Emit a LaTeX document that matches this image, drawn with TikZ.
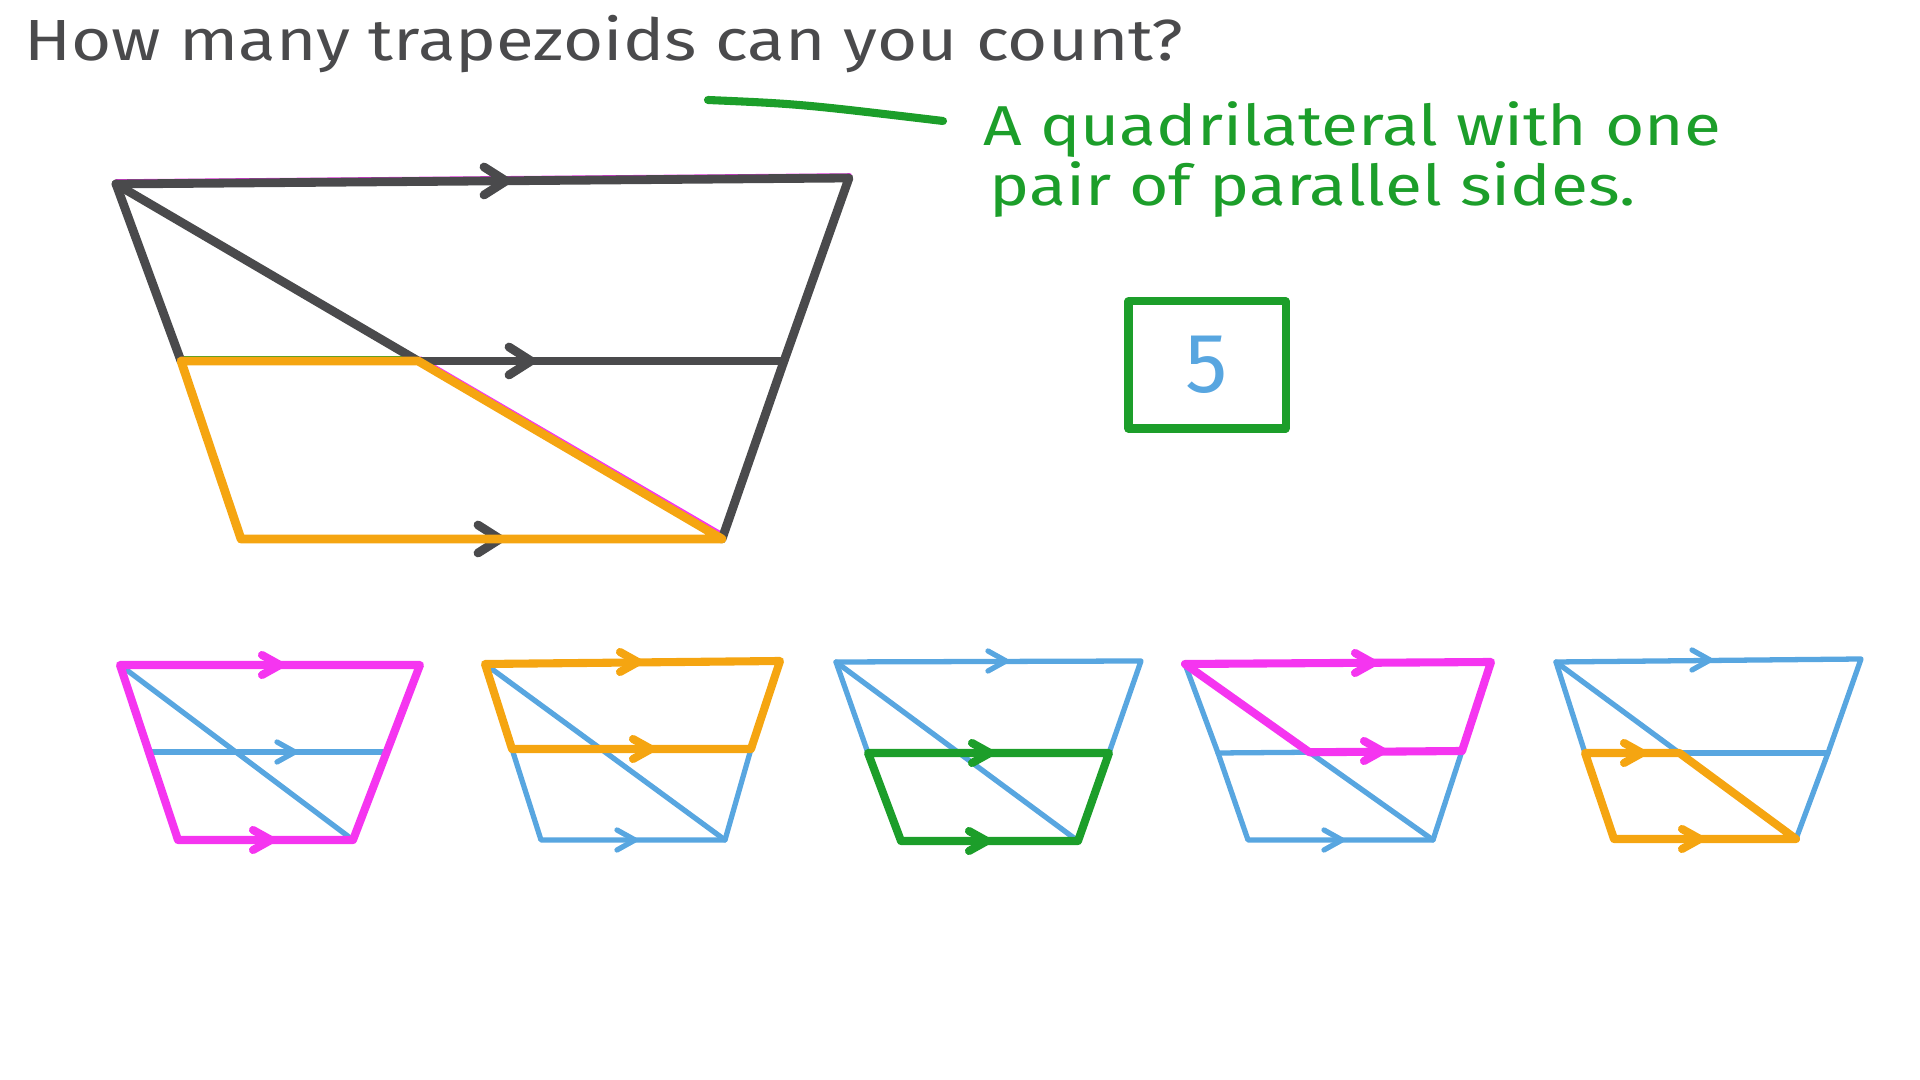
\documentclass[tikz,border=0pt]{standalone}
\usepackage{fontspec}
\setmainfont{Fira Sans}
\usetikzlibrary{calc}
\definecolor{dk}{HTML}{4A4A4C}
\definecolor{pk}{HTML}{F535F0}
\definecolor{bl}{HTML}{58A6E0}
\definecolor{og}{HTML}{F5A511}
\definecolor{gr}{HTML}{1C9E2A}
\begin{document}
\begin{tikzpicture}[x=0.01cm,y=-0.01cm,line cap=round,line join=round,
  bigline/.style={line width=2.5pt},
  thinline/.style={line width=1.5pt},
  hiline/.style={line width=2.3pt},
  bchev/.pic={\draw (-18,-14) -- (4,0) -- (-18,14);},
  schev/.pic={\draw (-14,-10) -- (4,0) -- (-14,10);},
  lbl/.style={anchor=base west,inner sep=0pt}]
\useasboundingbox (0,0) rectangle (1920,1080);

% title
\node[lbl,text=dk] (title) at (24,61) {\resizebox{11.58cm}{\height}{\fontsize{16.5}{16.5}\selectfont How many trapezoids can you count?}};

% definition
\coordinate (U1) at (708,100);
\coordinate (U2) at (943,121);
\draw[gr,line width=2.3pt] (U1) .. controls (800,104) .. (U2);
\node[lbl,text=gr] (def1) at (983,146) {\resizebox{7.37cm}{\height}{\fontsize{16}{16}\selectfont A quadrilateral with one}};
\node[lbl,text=gr] (def2) at (989,206) {\resizebox{6.46cm}{\height}{\fontsize{16}{16}\selectfont pair of parallel sides.}};

% answer box
\node[draw=gr,line width=2.3pt,minimum width=1.57cm,minimum height=1.27cm,inner sep=0pt] (ans) at (1207,365) {\color{bl}\fontsize{24}{24}\selectfont 5};

% main trapezoid
\coordinate (T1) at (116,184);
\coordinate (T2) at (849,178);
\coordinate (M1) at (181,361);
\coordinate (M2) at (784,361);
\coordinate (B1) at (241,539);
\coordinate (B2) at (722,539);
\coordinate (X) at (intersection of T1--B2 and M1--M2);
\draw[pk,line width=1pt] ($(T1)+(0,-3)$) -- ($(T2)+(1,-3)$) -- ($(M2)+(2,-2)$);
\draw[pk,line width=1pt] ($(X)+(2,-3)$) -- ($(B2)+(2,-4)$);
\draw[gr,line width=1pt] ($(M1)+(0,-3)$) -- ($(X)+(0,-3)$);
\draw[dk,bigline] (T1) -- (T2) -- (M2) -- (B2);
\draw[dk,bigline] (T1) -- (M1);
\draw[dk,bigline] (M1) -- (M2);
\draw[dk,bigline] (T1) -- (X);
\pic[dk,bigline] at (502,181) {bchev};
\pic[dk,bigline] at (527,361) {bchev};
\pic[dk,bigline] at (496,539) {bchev};
\draw[og,bigline] (M1) -- (X) -- (B2) -- (B1) -- cycle;

% small 1
\coordinate (aT1) at (120,665);
\coordinate (aT2) at (420,665);
\coordinate (aM1) at (151,752);
\coordinate (aM2) at (387,752);
\coordinate (aB1) at (178,840);
\coordinate (aB2) at (353,840);
\draw[bl,thinline] (aM1) -- (aM2);
\draw[bl,thinline] (aT1) -- (aB2);
\pic[bl,thinline] at (291,752) {schev};
\draw[pk,hiline] (aT1) -- (aT2) -- (aB2) -- (aB1) -- cycle;
\pic[pk,hiline] at (276,665) {schev};
\pic[pk,hiline] at (267,840) {schev};

% small 2
\coordinate (bT1) at (485,664);
\coordinate (bT2) at (780,661);
\coordinate (bM1) at (512,749);
\coordinate (bM2) at (751,749);
\coordinate (bB1) at (541,840);
\coordinate (bB2) at (725,840);
\draw[bl,thinline] (bM1) -- (bB1) -- (bB2) -- (bM2);
\draw[bl,thinline] (bT1) -- (bB2);
\pic[bl,thinline] at (631,840) {schev};
\draw[og,hiline] (bT1) -- (bT2) -- (bM2) -- (bM1) -- cycle;
\pic[og,hiline] at (634,662) {schev};
\pic[og,hiline] at (647,749) {schev};

% small 3
\coordinate (cT1) at (836,662);
\coordinate (cT2) at (1141,661);
\coordinate (cM1) at (868,753);
\coordinate (cM2) at (1109,753);
\coordinate (cB1) at (901,841);
\coordinate (cB2) at (1078,841);
\draw[bl,thinline] (cM1) -- (cT1) -- (cT2) -- (cM2);
\draw[bl,thinline] (cT1) -- (cB2);
\pic[bl,thinline] at (1002,661) {schev};
\draw[gr,hiline] (cM1) -- (cM2) -- (cB2) -- (cB1) -- cycle;
\pic[gr,hiline] at (986,753) {schev};
\pic[gr,hiline] at (983,841) {schev};

% small 4
\coordinate (dT1) at (1185,664);
\coordinate (dT2) at (1491,662);
\coordinate (dM1) at (1218,753);
\coordinate (dM2) at (1462,751);
\coordinate (dB1) at (1248,840);
\coordinate (dB2) at (1433,840);
\coordinate (dX) at (intersection of dT1--dB2 and dM1--dM2);
\draw[bl,thinline] (dT1) -- (dM1) -- (dB1) -- (dB2) -- (dM2);
\draw[bl,thinline] (dM1) -- (dM2);
\draw[bl,thinline] (dT1) -- (dB2);
\pic[bl,thinline] at (1338,840) {schev};
\draw[pk,hiline] (dT1) -- (dT2) -- (dM2) -- (dX) -- cycle;
\pic[pk,hiline] at (1369,663) {schev};
\pic[pk,hiline] at (1378,751) {schev};

% small 5
\coordinate (eT1) at (1556,662);
\coordinate (eT2) at (1861,659);
\coordinate (eM1) at (1585,753);
\coordinate (eM2) at (1828,753);
\coordinate (eB1) at (1614,839);
\coordinate (eB2) at (1796,839);
\coordinate (eX) at (intersection of eT1--eB2 and eM1--eM2);
\draw[bl,thinline] (eM1) -- (eT1) -- (eT2) -- (eM2) -- (eB2);
\draw[bl,thinline] (eM1) -- (eM2);
\draw[bl,thinline] (eT1) -- (eB2);
\pic[bl,thinline] at (1706,660) {schev};
\draw[og,hiline] (eM1) -- (eX) -- (eB2) -- (eB1) -- cycle;
\pic[og,hiline] at (1638,753) {schev};
\pic[og,hiline] at (1696,839) {schev};
\end{tikzpicture}
\end{document}
